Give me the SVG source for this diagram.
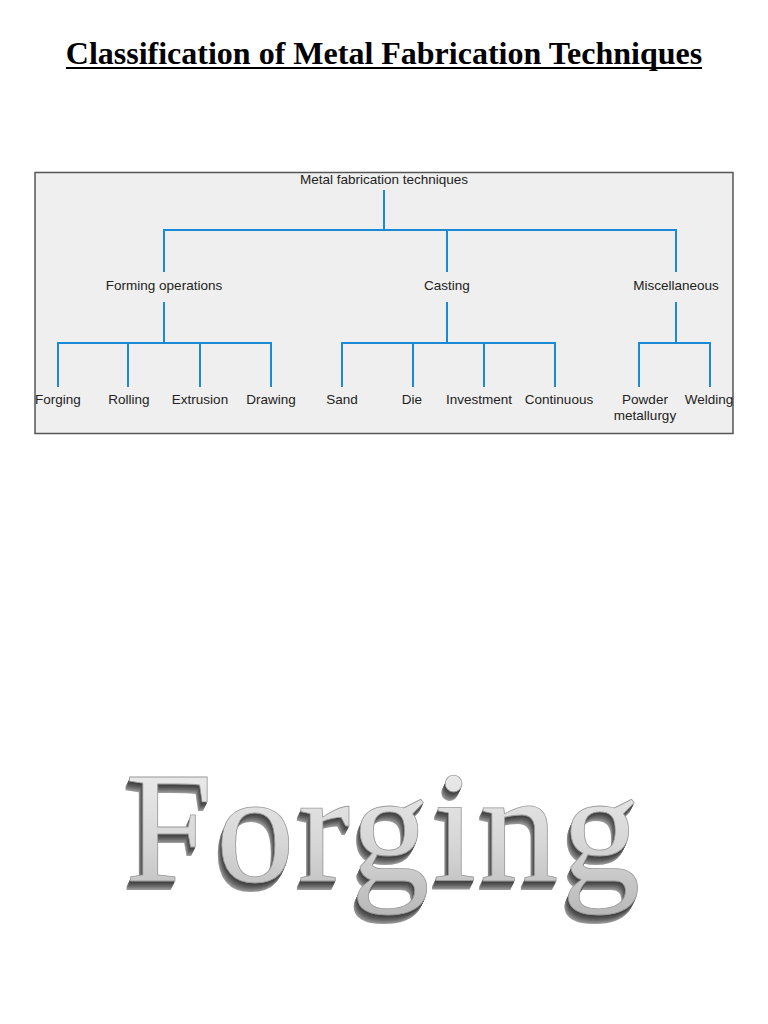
<svg xmlns="http://www.w3.org/2000/svg" xmlns:xlink="http://www.w3.org/1999/xlink" width="768" height="1024" viewBox="0 0 768 1024">
<style>
.lbl{font-family:"Liberation Sans",Arial,sans-serif;font-size:13.5px;fill:#222;text-anchor:middle}
.ln{stroke:#1a8ad6;stroke-width:2;fill:none}
.title{font-family:"Liberation Serif","Times New Roman",serif;font-weight:bold;font-size:32px;fill:#000;text-anchor:middle}
.big{font-family:"Liberation Serif","Times New Roman",serif;font-size:158px;letter-spacing:3px}
</style>
<defs>
<linearGradient id="face" x1="0" y1="0" x2="0" y2="1">
<stop offset="0" stop-color="#f2f2f2"/>
<stop offset="0.6" stop-color="#d6d6d6"/>
<stop offset="1" stop-color="#b8b8b8"/>
</linearGradient>
<text id="fw" class="big" x="125" y="881">Forging</text>
</defs>
<rect width="768" height="1024" fill="#fff"/>
<g id="title">
<text class="title" x="384" y="64">Classification of Metal Fabrication Techniques</text>
<rect x="66" y="67" width="636" height="2" fill="#000"/>
</g>
<rect id="panel" x="35" y="172.5" width="698" height="261" fill="#efefef" stroke="#555" stroke-width="1.5"/>
<g id="connectors">
<path class="ln" d="M384 190V230M164 272V230H676V272M447 230V272"/>
<path class="ln" d="M164 302V343M58 387V343H271V387M128 343V387M200 343V387"/>
<path class="ln" d="M447 302V343M342 387V343H555V387M413 343V387M484 343V387"/>
<path class="ln" d="M676 302V343M639 387V343H710V387"/>
</g>
<g id="n-root"><text class="lbl" x="384" y="184">Metal fabrication techniques</text></g>
<g id="n-forming"><text class="lbl" x="164" y="290">Forming operations</text></g>
<g id="n-casting"><text class="lbl" x="447" y="290">Casting</text></g>
<g id="n-misc"><text class="lbl" x="676" y="290">Miscellaneous</text></g>
<g id="n-forging"><text class="lbl" x="58" y="404">Forging</text></g>
<g id="n-rolling"><text class="lbl" x="129" y="404">Rolling</text></g>
<g id="n-extrusion"><text class="lbl" x="200" y="404">Extrusion</text></g>
<g id="n-drawing"><text class="lbl" x="271" y="404">Drawing</text></g>
<g id="n-sand"><text class="lbl" x="342" y="404">Sand</text></g>
<g id="n-die"><text class="lbl" x="412" y="404">Die</text></g>
<g id="n-investment"><text class="lbl" x="479" y="404">Investment</text></g>
<g id="n-continuous"><text class="lbl" x="559" y="404">Continuous</text></g>
<g id="n-powder"><text class="lbl" x="645" y="404">Powder</text><text class="lbl" x="645" y="420">metallurgy</text></g>
<g id="n-welding"><text class="lbl" x="709" y="404">Welding</text></g>
<g id="forging-3d">
<use xlink:href="#fw" transform="translate(-4,9)" fill="#9a9a9a"/>
<use xlink:href="#fw" transform="translate(-3.5,8)" fill="#8a8a8a"/>
<use xlink:href="#fw" transform="translate(-3,7)" fill="#7c7c7c"/>
<use xlink:href="#fw" transform="translate(-2.5,6)" fill="#6e6e6e"/>
<use xlink:href="#fw" transform="translate(-2,5)" fill="#626262"/>
<use xlink:href="#fw" transform="translate(-1.5,4)" fill="#575757"/>
<use xlink:href="#fw" transform="translate(-1,3)" fill="#4e4e4e"/>
<use xlink:href="#fw" transform="translate(-0.5,1.5)" fill="#444"/>
<use xlink:href="#fw" fill="url(#face)" stroke="#9a9a9a" stroke-width="0.8"/>
</g>
</svg>
